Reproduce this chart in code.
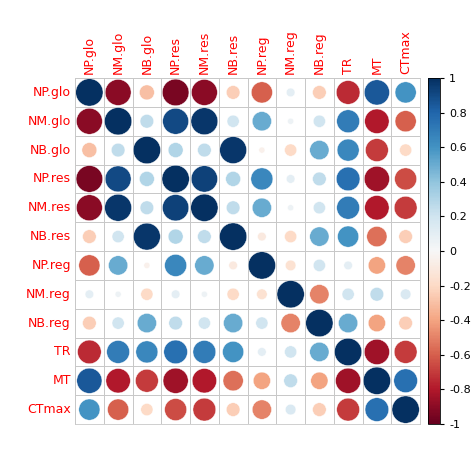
import numpy as np, pandas as pd, seaborn as sns, matplotlib
matplotlib.use("Agg")
import matplotlib.pyplot as plt
from matplotlib.collections import EllipseCollection
from matplotlib.colors import ListedColormap, Normalize
from matplotlib.cm import ScalarMappable

labels = ["NP.glo","NM.glo","NB.glo","NP.res","NM.res","NB.res","NP.reg","NM.reg","NB.reg","TR","MT","CTmax"]
upper = {
 0:[-0.9,-0.3,-0.95,-0.9,-0.25,-0.6,0.1,-0.25,-0.75,0.85,0.6],
 1:[0.25,0.9,0.97,0.2,0.5,0.05,0.2,0.7,-0.8,-0.6],
 2:[0.3,0.25,0.97,-0.05,-0.2,0.5,0.65,-0.7,-0.2],
 3:[0.93,0.3,0.65,0.1,0.25,0.75,-0.85,-0.65],
 4:[0.25,0.5,0.05,0.2,0.7,-0.8,-0.7],
 5:[-0.1,-0.2,0.5,0.6,-0.55,-0.25],
 6:[-0.15,0.2,0.1,-0.4,-0.5],
 7:[-0.5,0.2,0.25,0.15],
 8:[0.5,-0.4,-0.25],
 9:[-0.85,-0.7],
 10:[0.75],
}
n = len(labels)
M = np.eye(n)
for i, vals in upper.items():
    for k, v in enumerate(vals):
        M[i, i+1+k] = v; M[i+1+k, i] = v
df = pd.DataFrame(M, index=labels, columns=labels)

fig = plt.figure(figsize=(4.74, 4.74), dpi=100)
ax = fig.add_axes([75/474, 50/474, 345/474, 346/474])
cax = fig.add_axes([428/474, 50/474, 12/474, 346/474])
cmap = plt.get_cmap("RdBu")
sns.heatmap(df*0, ax=ax, cmap=ListedColormap(["white"]), cbar=False,
            linewidths=0.6, linecolor="#c8c8c8")
for s in ax.spines.values():
    s.set_visible(True); s.set_color("#c8c8c8"); s.set_linewidth(0.6)

xs, ys = np.meshgrid(np.arange(n)+0.5, np.arange(n)+0.5)
vals = M.ravel()
w = np.sqrt(np.abs(vals))*0.95
ec = EllipseCollection(w, w, np.zeros_like(w), units="x",
                       offsets=np.column_stack([xs.ravel(), ys.ravel()]),
                       offset_transform=ax.transData,
                       facecolors=cmap((vals+1)/2), edgecolors="white", linewidths=0.3)
ax.add_collection(ec)

ax.xaxis.tick_top()
ax.set_xticklabels(labels, rotation=90, color="red", fontsize=9)
ax.set_yticklabels(labels, rotation=0, color="red", fontsize=9)
ax.tick_params(length=0, pad=3)
ax.set_xlabel(""); ax.set_ylabel("")

sm = ScalarMappable(norm=Normalize(-1, 1), cmap=cmap)
cb = fig.colorbar(sm, cax=cax)
ticks = np.round(np.arange(-1, 1.01, 0.2), 1)
cb.set_ticks(ticks)
cb.set_ticklabels([("%g" % (0.0 if abs(t) < 1e-9 else t)) for t in ticks])
cax.tick_params(length=3, labelsize=8)
cb.outline.set_linewidth(0.6)

fig.savefig("out.png", dpi=100, facecolor="white")
